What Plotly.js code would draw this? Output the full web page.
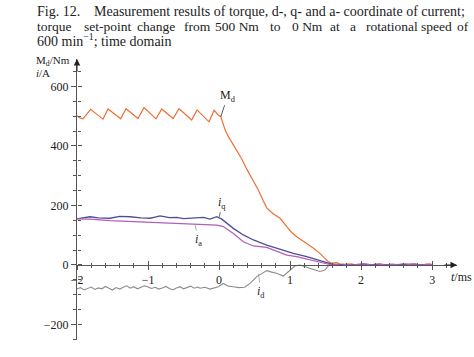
<!DOCTYPE html>
<html><head><meta charset="utf-8">
<script src="https://cdn.plot.ly/plotly-3.0.1.min.js"></script>
<style>html,body{margin:0;padding:0;background:#fff}</style>
</head><body>
<div id="chart" style="width:474px;height:357px"></div>
<script>
// ---- data ----
const md_t = [-2,-1.96,-1.915,-1.807,-1.72,-1.634,-1.563,-1.47,-1.385,-1.31,-1.22,-1.141,-1.056,-0.97,-0.887,-0.807,-0.73,-0.648,-0.563,-0.47,-0.385,-0.31,-0.22,-0.141,-0.07,-0.014,0.024,0.085,0.13,0.179,0.25,0.32,0.39,0.46,0.553,0.624,0.672,0.76,0.859,0.953,1.02,1.094,1.188,1.26,1.33,1.42,1.49,1.54,1.59,1.66,1.7,1.78,1.86,1.94,2.02,2.1,2.18,2.26,2.34,2.42,2.5,2.58,2.66,2.74,2.82,2.9,2.96,3.0];
const md_v = [501,494,491,523,506,490,524,507,491,525,508,492,529,509,491,524,507,492,525,505,487,521,500,481,520,504,498,454,432,412,386,356,322,291,252,215,192,172,157,129,110,95,78,68,56,39,22,11,6,8,3,1,4,0,3,-1,2,4,0,2,-1,3,1,4,0,2,4,1];
const iq_t = [-2,-1.9,-1.817,-1.7,-1.535,-1.4,-1.254,-1.1,-0.972,-0.9,-0.831,-0.7,-0.596,-0.5,-0.408,-0.3,-0.221,-0.127,-0.032,0.038,0.108,0.201,0.342,0.483,0.672,0.859,1.046,1.235,1.376,1.493,1.587,1.65,1.75,1.85,1.95,2.05,2.15,2.25,2.35,2.45,2.55,2.65,2.75,2.85,2.95,3.0];
const iq_v = [155,158,162,158,157,163,162,158,157,161,165,159,160,156,157,160,160,154,162,154,140,123,101,84,67,53,39,28,17,8,3,1,2,0,1,3,0,2,1,0,2,3,0,1,2,1];
const ia_t = [-2,-1.817,-1.535,-1.254,-0.972,-0.69,-0.408,-0.338,-0.127,-0.03,0.06,0.201,0.342,0.483,0.672,0.81,0.953,1.094,1.28,1.47,1.587,1.65,1.72,1.8,1.88,1.96,2.04,2.12,2.2,2.28,2.36,2.44,2.52,2.6,2.68,2.76,2.84,2.92,3.0];
const ia_v = [155,154,149,146,143,140,137,138,134,134,129,106,78,64,59,45,33,28,17,6,0,2,-1,3,0,2,4,1,-1,2,0,3,1,-1,2,4,0,2,1];
const id_t = [-2,-1.95,-1.9,-1.85,-1.8,-1.75,-1.7,-1.65,-1.6,-1.55,-1.5,-1.45,-1.4,-1.35,-1.3,-1.25,-1.2,-1.15,-1.1,-1.05,-1.0,-0.95,-0.9,-0.85,-0.8,-0.75,-0.7,-0.65,-0.6,-0.55,-0.5,-0.45,-0.4,-0.35,-0.3,-0.268,-0.2,-0.127,-0.06,-0.01,0.06,0.13,0.2,0.28,0.36,0.437,0.53,0.6,0.672,0.74,0.81,0.906,1.0,1.07,1.14,1.23,1.33,1.42,1.49,1.54,1.59,1.65];
const id_v = [-80,-76,-84,-79,-74,-82,-77,-80,-72,-78,-84,-76,-81,-75,-70,-78,-73,-80,-76,-70,-74,-79,-75,-81,-77,-72,-79,-84,-77,-73,-80,-75,-71,-78,-74,-78,-75,-81,-76,-73,-62,-71,-73,-76,-75,-62,-39,-30,-19,-24,-28,-37,-17,-3,0,-6,-15,-22,-17,-3,3,0];
const xTickVals = [-2,-1,0,1,2,3];
const xTickText = ['\u22122','\u22121','0','1','2','3'];
const yTickVals = [-200,0,200,400,600];

// ---- layout helpers ----
const W=474,H=357,ML=77,MR=17,MT=59,MB=17;
const PW=W-ML-MR, PH=H-MT-MB;
const px=x=>(x-ML)/PW, py=y=>(H-MB-y)/PH;
const serif='"Liberation Serif", "DejaVu Serif", serif';
const txt='#222';
const XR=[-2,3.35], YR=[-252,692], XPOS=252/944;

const traces=[
 {x:md_t,y:md_v,mode:'lines',line:{color:'#ee6f35',width:1.2},hoverinfo:'skip'},
 {x:id_t,y:id_v,mode:'lines',line:{color:'#8c8c8c',width:1.1},hoverinfo:'skip'},
 {x:iq_t,y:iq_v,mode:'lines',line:{color:'#4d4d96',width:1.3},hoverinfo:'skip'},
 {x:ia_t,y:ia_v,mode:'lines',line:{color:'#b35cb8',width:1.2},hoverinfo:'skip'},
 {x:[],y:[],xaxis:'x2',yaxis:'y2',mode:'lines',hoverinfo:'skip'}
];

function note(text,x,y,opts){return Object.assign({text:text,xref:'paper',yref:'paper',x:px(x),y:py(y),showarrow:false,xanchor:'left',yanchor:'middle',font:{family:serif,size:14,color:txt}},opts||{});}
const S='\u00a0';
const small={family:serif,size:11,color:txt};
const l2={font:{family:serif,size:13.5,color:txt}};
const ann=[
 note('Fig. 12.',35,12),
 note('Measurement results of torque, d-, q- and a- coordinate of current;',92,12),
 note('torque',35,26,l2), note('set-point',82,26,l2), note('change',135,26,l2), note('from',182,26,l2),
 note('500'+S+'Nm',213,26,l2), note('to',268,26,l2), note('0'+S+'Nm',290,26,l2), note('at',328,26,l2),
 note('a',348,26,l2), note('rotational',364,26,l2), note('speed',419,26,l2), note('of',455,26,l2),
 note('600'+S+'min<sup>\u22121</sup>; time domain',35,40.5),
 note('M<sub>d</sub>/Nm',34,61,{font:small}),
 note('<i>i</i>/A',34,73,{font:small}),
 note('<i>t</i>/ms',474,277,{font:{family:serif,size:12,color:txt},xanchor:'right'}),
 // series labels with leader lines
 {text:'M<sub>d</sub>',x:0.024,y:498,xref:'x',yref:'y',showarrow:true,arrowhead:0,arrowwidth:0.8,arrowcolor:'#333',ax:7,ay:-21,font:{family:serif,size:12,color:txt}},
 {text:'<i>i</i><sub>q</sub>',x:0.004,y:162,xref:'x',yref:'y',showarrow:true,arrowhead:0,arrowwidth:0.8,arrowcolor:'#333',ax:3,ay:-14,font:{family:serif,size:12,color:txt}},
 {text:'<i>i</i><sub>a</sub>',x:-0.338,y:138,xref:'x',yref:'y',showarrow:true,arrowhead:0,arrowwidth:0.8,arrowcolor:'#999',ax:3,ay:16,font:{family:serif,size:12,color:txt}},
 {text:'<i>i</i><sub>d</sub>',x:0.553,y:-30,xref:'x',yref:'y',showarrow:true,arrowhead:0,arrowwidth:0.8,arrowcolor:'#999',ax:3,ay:18,font:{family:serif,size:12,color:txt}},
 // axis arrowheads
 {text:'',x:3.35,y:0,xref:'x',yref:'y',showarrow:true,arrowhead:2,arrowsize:1.3,arrowwidth:1,arrowcolor:'#222',ax:-14,ay:0},
 {text:'',x:-2,y:692,xref:'x',yref:'y',showarrow:true,arrowhead:2,arrowsize:1.3,arrowwidth:1,arrowcolor:'#222',ax:0,ay:14}
];

const tc='#555';
const layout={
 width:W,height:H,margin:{l:ML,r:MR,t:MT,b:MB},
 paper_bgcolor:'#fff',plot_bgcolor:'#fff',showlegend:false,
 xaxis:{range:XR,anchor:'free',position:XPOS,showline:true,linecolor:tc,linewidth:1,
   showgrid:false,zeroline:false,tickvals:xTickVals,ticktext:xTickText,ticks:'outside',ticklen:4,tickcolor:tc,
   minor:{dtick:0.2,tick0:0,ticks:'outside',ticklen:2,tickcolor:tc,showgrid:false},
   tickfont:{family:serif,size:12,color:txt},fixedrange:true},
 yaxis:{range:YR,showline:true,linecolor:tc,linewidth:1,showgrid:false,zeroline:false,
   tickvals:yTickVals,ticks:'outside',ticklen:5,tickcolor:tc,
   minor:{dtick:50,tick0:0,ticks:'outside',ticklen:3,tickcolor:tc,showgrid:false},
   tickfont:{family:serif,size:12,color:txt},fixedrange:true},
 xaxis2:{range:XR,overlaying:'x',anchor:'free',position:XPOS,showline:false,showgrid:false,zeroline:false,
   tickvals:xTickVals,showticklabels:false,ticks:'inside',ticklen:4,tickcolor:tc,
   minor:{dtick:0.2,tick0:0,ticks:'inside',ticklen:2,tickcolor:tc,showgrid:false},fixedrange:true},
 yaxis2:{range:YR,overlaying:'y',anchor:'free',position:0,showline:false,showgrid:false,zeroline:false,
   tickvals:yTickVals,showticklabels:false,ticks:'inside',ticklen:4,tickcolor:tc,
   minor:{dtick:50,tick0:0,ticks:'inside',ticklen:3,tickcolor:tc,showgrid:false},fixedrange:true},
 annotations:ann
};
Plotly.newPlot('chart',traces,layout,{staticPlot:true,displayModeBar:false});
</script>
</body></html>
